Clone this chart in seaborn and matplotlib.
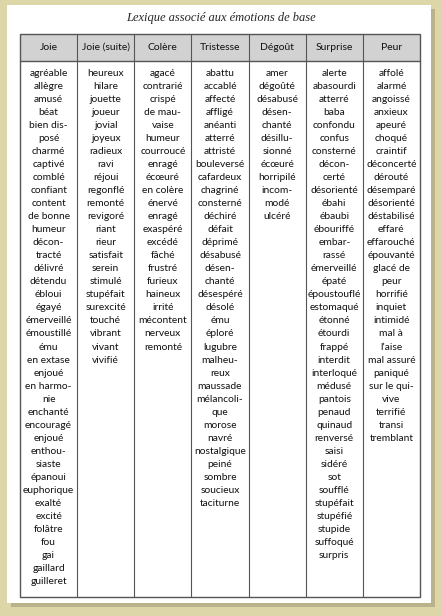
import matplotlib
matplotlib.use("Agg")
import matplotlib.pyplot as plt
import seaborn as sns
from matplotlib.patches import Rectangle

sns.set_style("white")
plt.rcParams['font.family'] = ['Lato', 'DejaVu Sans']

title = "Lexique associé aux émotions de base"
headers = ["Joie", "Joie (suite)", "Colère", "Tristesse", "Dégoût", "Surprise", "Peur"]
joie = ["agréable", "allègre", "amusé", "béat", "bien dis-", "posé", "charmé", "captivé", "comblé",
        "confiant", "content", "de bonne", "humeur", "décon-", "tracté", "délivré", "détendu", "ébloui",
        "égayé", "émerveillé", "émoustillé", "ému", "en extase", "enjoué", "en harmo-", "nie", "enchanté",
        "encouragé", "enjoué", "enthou-", "siaste", "épanoui", "euphorique", "exalté", "excité", "folâtre",
        "fou", "gai", "gaillard", "guilleret"]
joie_suite = ["heureux", "hilare", "jouette", "joueur", "jovial", "joyeux", "radieux", "ravi", "réjoui",
              "regonflé", "remonté", "revigoré", "riant", "rieur", "satisfait", "serein", "stimulé",
              "stupéfait", "surexcité", "touché", "vibrant", "vivant", "vivifié"]
colere = ["agacé", "contrarié", "crispé", "de mau-", "vaise", "humeur", "courroucé", "enragé", "écœuré",
          "en colère", "énervé", "enragé", "exaspéré", "excédé", "fâché", "frustré", "furieux", "haineux",
          "irrité", "mécontent", "nerveux", "remonté"]
tristesse = ["abattu", "accablé", "affecté", "affligé", "anéanti", "atterré", "attristé", "bouleversé",
             "cafardeux", "chagriné", "consterné", "déchiré", "défait", "déprimé", "désabusé", "désen-",
             "chanté", "désespéré", "désolé", "ému", "éploré", "lugubre", "malheu-", "reux", "maussade",
             "mélancoli-", "que", "morose", "navré", "nostalgique", "peiné", "sombre", "soucieux", "taciturne"]
degout = ["amer", "dégoûté", "désabusé", "désen-", "chanté", "désillu-", "sionné", "écœuré", "horripilé",
          "incom-", "modé", "ulcéré"]
surprise = ["alerte", "abasourdi", "atterré", "baba", "confondu", "confus", "consterné", "décon-", "certé",
            "désorienté", "ébahi", "ébaubi", "ébouriffé", "embar-", "rassé", "émerveillé", "épaté",
            "époustouflé", "estomaqué", "étonné", "étourdi", "frappé", "interdit", "interloqué", "médusé",
            "pantois", "penaud", "quinaud", "renversé", "saisi", "sidéré", "sot", "soufflé", "stupéfait",
            "stupéfié", "stupide", "suffoqué", "surpris"]
peur = ["affolé", "alarmé", "angoissé", "anxieux", "apeuré", "choqué", "craintif", "déconcerté", "dérouté",
        "désemparé", "désorienté", "déstabilisé", "effaré", "effarouché", "épouvanté", "glacé de", "peur",
        "horrifié", "inquiet", "intimidé", "mal à", "l’aise", "mal assuré", "paniqué", "sur le qui-", "vive",
        "terrifié", "transi", "tremblant"]
columns = [joie, joie_suite, colere, tristesse, degout, surprise, peur]

fig = plt.figure(figsize=(4.42, 6.16), dpi=100)
fig.patch.set_facecolor("#dcd6a8")
ax = fig.add_axes([0, 0, 1, 1])
ax.set_xlim(0, 442)
ax.set_ylim(616, 0)
ax.axis("off")

# page with shadow
ax.add_patch(Rectangle((11, 9), 424, 598, facecolor="#b8b38a", edgecolor="none", zorder=0))
ax.add_patch(Rectangle((7, 5), 424, 598, facecolor="white", edgecolor="none", zorder=1))

ax.text(221, 18, title, ha="center", va="center", fontsize=9, style="italic",
        family="Liberation Serif", zorder=3)

left, right, top, hbot, bottom = 20, 420, 34, 61, 597
xs = [left + i * (right - left) / 7 for i in range(8)]
ax.add_patch(Rectangle((left, top), right - left, hbot - top, facecolor="#d2d2d2",
                       edgecolor="none", zorder=2))
ax.add_patch(Rectangle((left, top), right - left, bottom - top, facecolor="none",
                       edgecolor="#555555", lw=1.0, zorder=4))
ax.plot([left, right], [hbot, hbot], color="#555555", lw=1.0, zorder=4)
for x in xs[1:-1]:
    ax.plot([x, x], [top, bottom], color="#555555", lw=0.8, zorder=4)

for i, (h, words) in enumerate(zip(headers, columns)):
    cx = (xs[i] + xs[i + 1]) / 2
    ax.text(cx, (top + hbot) / 2, h, ha="center", va="center", fontsize=7.5, color="#111111", zorder=5)
    for j, w in enumerate(words):
        ax.text(cx, 73 + j * 13.05, w, ha="center", va="center", fontsize=7.4, color="#111111", zorder=5)

fig.savefig("out.png", dpi=100, facecolor=fig.get_facecolor())
